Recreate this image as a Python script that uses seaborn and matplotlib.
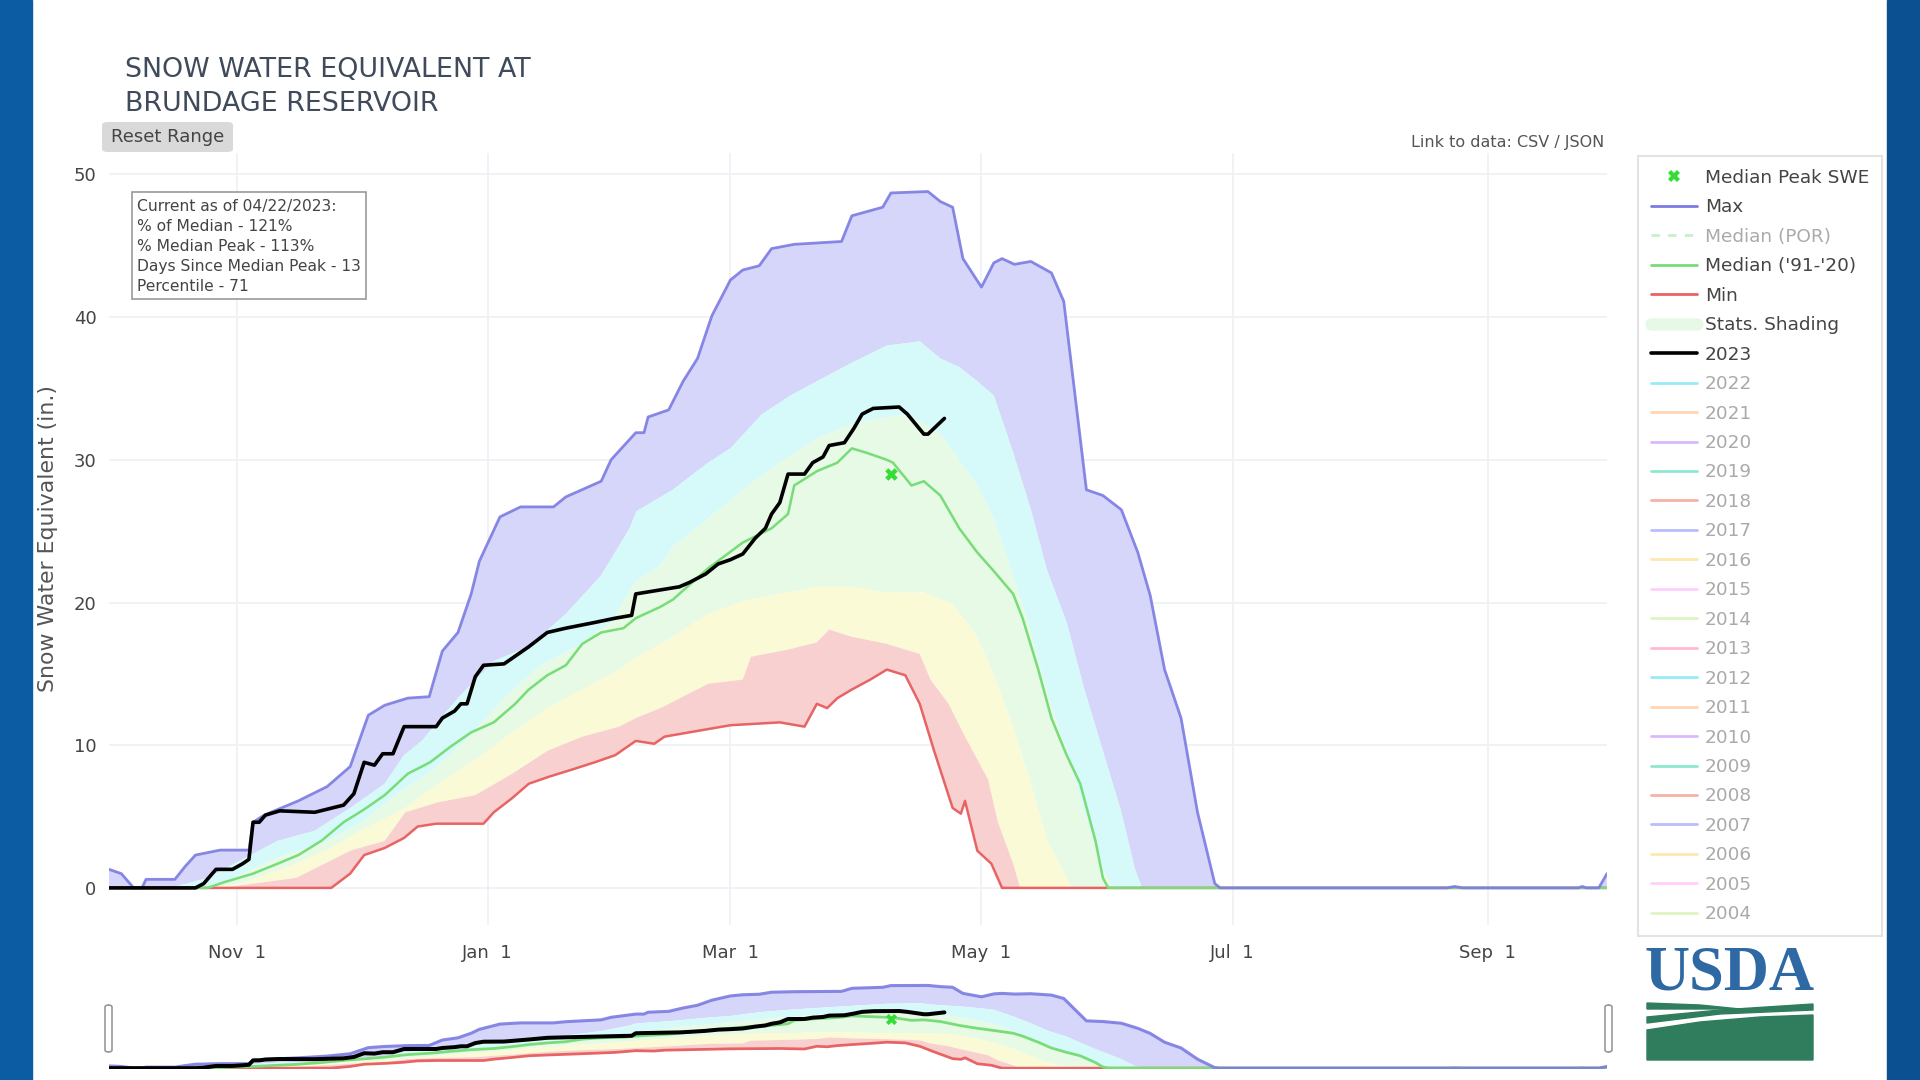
import numpy as np
import matplotlib
matplotlib.use("Agg")
import matplotlib.pyplot as plt
import seaborn as sns
from matplotlib.lines import Line2D
from matplotlib.patches import Rectangle, FancyBboxPatch, Polygon

# day of water year (0 = Oct 1) and SWE in inches
max_days = [0, 3, 6, 8, 9, 16, 18.5, 21, 27, 34, 35, 37.7, 46, 53, 58.6, 63, 67, 72.6, 77.8, 81, 84.8, 88, 90,
            95, 100, 108, 111, 119.6, 122, 128, 130, 131, 136, 139.5, 143, 146.5, 151, 154, 158, 161, 166.5,
            178, 180.5, 188, 190, 199, 202, 205, 207.5, 212, 215, 217, 220, 224, 229, 232, 237.5, 241.5, 246,
            250, 253, 256.5, 260.5, 264.5, 268.7, 270, 325, 327, 329, 357, 358, 359, 362, 364]
max_swe = [1.3, 1.0, 0, 0, 0.6, 0.6, 1.5, 2.3, 2.65, 2.65, 4.6, 5.1, 6.1, 7.1, 8.5, 12.1, 12.8, 13.3, 13.4, 16.6,
           17.9, 20.6, 22.9, 26.0, 26.7, 26.7, 27.4, 28.5, 30.0, 31.9, 31.9, 33.0, 33.5, 35.5, 37.1, 40.1, 42.6,
           43.3, 43.6, 44.8, 45.1, 45.3, 47.1, 47.7, 48.7, 48.8, 48.1, 47.7, 44.1, 42.1, 43.8, 44.1, 43.7, 43.9,
           43.1, 41.1, 27.9, 27.5, 26.5, 23.5, 20.5, 15.3, 11.9, 5.3, 0.3, 0, 0, 0.1, 0, 0, 0.1, 0, 0, 1.0]

p90_days = [0, 15, 24, 32.5, 41, 50, 58.6, 67, 71.7, 76, 84.8, 93.5, 102, 111, 119.6, 126.5, 128.2, 137, 145.6,
            151, 158.7, 165.6, 172, 180.5, 189, 197, 202, 206.6, 211, 215, 219.7, 224, 228, 232.7, 237, 241.5,
            246, 249.3, 251, 364]
p90_swe = [0, 0, 0.7, 2.0, 3.3, 4.0, 5.6, 7.3, 9.3, 10.3, 13.3, 15.9, 16.9, 19.2, 21.9, 25.2, 26.4, 27.9, 29.8,
           30.8, 33.2, 34.5, 35.5, 36.8, 38.0, 38.3, 37.1, 36.5, 35.5, 34.5, 30.5, 26.5, 22.2, 18.6, 13.9, 9.6,
           5.3, 1.3, 0, 0]

p70_days = [0, 24, 27, 40, 53, 61.5, 70, 79, 87.5, 96, 104.8, 113.5, 122, 128, 134, 137, 145.6, 154, 163, 172,
            180.5, 189, 194, 202, 211, 215, 219.7, 224, 228, 232.7, 237, 241.5, 244, 364]
p70_swe = [0, 0, 0.3, 2.0, 3.3, 4.6, 6.6, 8.3, 10.6, 13.3, 15.6, 16.9, 18.6, 21.5, 22.6, 23.9, 25.9, 27.9, 29.8,
           31.5, 32.5, 33.0, 33.2, 31.8, 28.2, 25.9, 21.9, 17.9, 13.6, 9.6, 5.3, 1.3, 0, 0]

p30_days = [0, 24, 32, 45.5, 54, 63, 72, 80, 89, 98, 106.5, 115, 124, 128.5, 137, 145.6, 154, 163, 172, 180.5,
            189, 198, 205, 211, 215, 219.7, 224, 228, 232.7, 234, 364]
p30_swe = [0, 0, 0.3, 1.7, 2.8, 4.3, 5.6, 7.3, 9.0, 10.9, 12.6, 13.9, 15.3, 16.2, 17.6, 19.2, 20.1, 20.6, 21.1,
           21.1, 20.7, 20.7, 19.9, 17.6, 14.9, 11.3, 7.3, 3.3, 0.7, 0, 0]

p10_days = [0, 28, 32.5, 45.5, 58.6, 67, 72, 80, 89, 98, 106.5, 115, 124, 128, 134, 145.6, 154, 156, 165, 172,
            175, 180.5, 189, 197, 199.6, 204, 208, 213.6, 216, 219.7, 221.4, 364]
p10_swe = [0, 0, 0.2, 0.7, 2.6, 3.3, 5.3, 6.0, 6.5, 8.0, 9.6, 10.6, 11.3, 11.9, 12.6, 14.3, 14.6, 16.2, 16.7,
           17.2, 18.1, 17.6, 17.1, 16.4, 14.6, 12.9, 10.6, 7.6, 4.6, 1.7, 0, 0]

min_days = [0, 54, 58.6, 62, 67, 71.7, 75, 79.5, 91, 93.5, 98, 102, 107, 112.6, 118, 123, 128, 132.5, 135, 141,
            151, 163, 169, 172, 174.5, 177, 180.5, 185, 189, 193.5, 197, 200.5, 205, 207, 208, 211, 214.4, 217, 364]
min_swe = [0, 0, 1.0, 2.3, 2.8, 3.5, 4.3, 4.5, 4.5, 5.3, 6.3, 7.3, 7.8, 8.3, 8.8, 9.3, 10.3, 10.1, 10.6, 10.9,
           11.4, 11.6, 11.3, 12.9, 12.6, 13.3, 13.9, 14.6, 15.3, 14.9, 12.9, 9.6, 5.6, 5.2, 6.1, 2.6, 1.7, 0, 0]

med_days = [0, 24, 28, 35, 41, 46, 51.6, 57, 62, 67, 72.6, 78, 83, 88, 93.5, 98.7, 102, 106.5, 111, 115, 119.6,
            125, 128, 134, 137, 145.6, 154, 161, 165, 166.5, 172, 177, 180.5, 184, 189, 190.5, 195, 198, 202,
            206.6, 211, 215, 219.7, 222, 225.8, 229, 232.7, 236, 239.7, 241.5, 242.8, 364]
med_swe = [0, 0, 0.4, 1.0, 1.7, 2.3, 3.3, 4.6, 5.5, 6.5, 8.0, 8.8, 9.9, 10.9, 11.6, 12.9, 13.9, 14.9, 15.6, 17.1,
           17.9, 18.2, 18.9, 19.7, 20.2, 22.4, 24.2, 25.2, 26.2, 28.2, 29.2, 29.8, 30.8, 30.5, 30.0, 29.8, 28.2,
           28.5, 27.5, 25.2, 23.5, 22.2, 20.6, 18.9, 15.3, 11.9, 9.3, 7.3, 3.3, 0.7, 0, 0]

wy2023_days = [0, 21, 23, 26, 30, 32.5, 34, 35, 36.5, 38, 41.5, 50, 57, 59.5, 62, 64.5, 66.5, 69, 71.7, 79.5, 81,
               84, 85.5, 87, 89, 91, 96, 102, 106.5, 111, 118, 123, 127, 128, 138.6, 141, 145, 148, 151, 154, 157,
               159.5, 161, 163, 165, 169, 171, 173.5, 175, 178.7, 181, 183, 185.7, 192, 194, 198, 199, 203]
wy2023_swe = [0, 0, 0.3, 1.3, 1.3, 1.7, 2.0, 4.6, 4.6, 5.1, 5.4, 5.3, 5.8, 6.6, 8.8, 8.6, 9.4, 9.4, 11.3, 11.3,
              11.9, 12.4, 12.9, 12.9, 14.8, 15.6, 15.7, 16.9, 17.9, 18.2, 18.6, 18.9, 19.1, 20.6, 21.1, 21.4, 22.0,
              22.7, 23.0, 23.4, 24.5, 25.2, 26.2, 27.0, 29.0, 29.0, 29.8, 30.2, 31.0, 31.2, 32.2, 33.2, 33.6, 33.7,
              33.2, 31.8, 31.8, 32.9]

peak_day = [190]
peak_swe = [29.0]

tick_days = [31, 92, 151, 212, 273, 335]
tick_labels = ["Nov  1", "Jan  1", "Mar  1", "May  1", "Jul  1", "Sep  1"]
y_ticks = [0, 10, 20, 30, 40, 50]

info_lines = ["Current as of 04/22/2023:", "% of Median - 121%", "% Median Peak - 113%",
              "Days Since Median Peak - 13", "Percentile - 71"]

year_labels = ["2022", "2021", "2020", "2019", "2018", "2017", "2016", "2015", "2014", "2013",
               "2012", "2011", "2010", "2009", "2008", "2007", "2006", "2005", "2004"]
year_colors = ["#19d3f3", "#FFA15A", "#ab63fa", "#00cc96", "#EF553B", "#636efa", "#FECB52", "#FF97FF",
               "#B6E880", "#FF6692", "#19d3f3", "#FFA15A", "#ab63fa", "#00cc96", "#EF553B", "#636efa",
               "#FECB52", "#FF97FF", "#B6E880"]

C_MAX, C_MIN, C_MED, C_PEAK = "#7b7be3", "#e86464", "#78dc78", "#33dd33"
bands = [
    (max_days, max_swe, p90_days, p90_swe, "#d6d6fa"),
    (p90_days, p90_swe, p70_days, p70_swe, "#d6fafa"),
    (p70_days, p70_swe, p30_days, p30_swe, "#e6fae6"),
    (p30_days, p30_swe, p10_days, p10_swe, "#fafad6"),
    (p10_days, p10_swe, min_days, min_swe, "#f9d0d0"),
]

sns.set_theme(style="white")
plt.rcParams["font.family"] = ["DejaVu Sans"]

W, H = 1920, 1080
fig = plt.figure(figsize=(19.2, 10.8), dpi=100)
fig.patch.set_facecolor("white")


def fx(x):
    return x / W


def fy(y):
    return 1 - y / H


def draw_chart(ax, lw_scale=1.0, marker_size=9):
    for d1, v1, d2, v2, col in bands:
        xs = np.concatenate([d1, d2[::-1]])
        ys = np.concatenate([v1, v2[::-1]])
        ax.fill(xs, ys, color=col, lw=0, zorder=1)
    sns.lineplot(x=min_days, y=min_swe, ax=ax, color=C_MIN, linewidth=1.8 * lw_scale, estimator=None, sort=False, zorder=3)
    sns.lineplot(x=med_days, y=med_swe, ax=ax, color=C_MED, linewidth=1.8 * lw_scale, estimator=None, sort=False, zorder=3)
    sns.lineplot(x=max_days, y=max_swe, ax=ax, color=C_MAX, linewidth=2.0 * lw_scale, estimator=None, sort=False,
                 zorder=4, alpha=0.9)
    sns.lineplot(x=wy2023_days, y=wy2023_swe, ax=ax, color="black", linewidth=2.6 * lw_scale, estimator=None, sort=False, zorder=5)
    sns.scatterplot(x=peak_day, y=peak_swe, ax=ax, color=C_PEAK, marker="X", s=marker_size ** 2, linewidth=0, zorder=6)


# main plot
ax = fig.add_axes([fx(109), fy(925), fx(1607) - fx(109), fy(153) - fy(925)])
draw_chart(ax)
ax.set_xlim(0, 364)
ax.set_ylim(-2.6, 51.5)
ax.set_xticks(tick_days)
ax.set_xticklabels(tick_labels)
ax.set_yticks(y_ticks)
ax.tick_params(axis="x", length=0, pad=14, labelsize=13, labelcolor="#444444")
ax.tick_params(axis="y", length=0, pad=9, labelsize=13, labelcolor="#444444")
ax.grid(True, color="#eef1f5", linewidth=1.2)
ax.set_axisbelow(True)
for s in ax.spines.values():
    s.set_visible(False)
ax.set_xlabel("")
ax.set_ylabel("")
fig.text(fx(48), fy(539), "Snow Water Equivalent (in.)", rotation=90, fontsize=15.8, color="#555555",
         ha="center", va="center")

# range slider
ax2 = fig.add_axes([fx(109), fy(1069), fx(1607) - fx(109), fy(980) - fy(1069)])
draw_chart(ax2, lw_scale=1.1, marker_size=8)
ax2.set_xlim(0, 364)
ax2.set_ylim(-0.5, 52)
ax2.set_xticks([])
ax2.set_yticks([])
ax2.set_xlabel("")
ax2.set_ylabel("")
for s in ax2.spines.values():
    s.set_visible(False)
for hx in (105, 1605):
    fig.patches.append(FancyBboxPatch((fx(hx), fy(1052)), fx(7), fy(1005) - fy(1052), transform=fig.transFigure,
                                      boxstyle="round,pad=0,rounding_size=0.002", facecolor="white",
                                      edgecolor="#999999", linewidth=1.2, zorder=10))

# title and controls
fig.text(fx(125), fy(70), "SNOW WATER EQUIVALENT AT", fontsize=19.4, color="#3f4a5a", va="center", ha="left")
fig.text(fx(125), fy(104), "BRUNDAGE RESERVOIR", fontsize=19.4, color="#3f4a5a", va="center", ha="left")
fig.patches.append(FancyBboxPatch((fx(102), fy(152)), fx(233) - fx(102), fy(122) - fy(152),
                                  transform=fig.transFigure, boxstyle="round,pad=0,rounding_size=0.003",
                                  facecolor="#d9d9d9", edgecolor="none", zorder=5))
fig.text(fx(167.5), fy(137), "Reset Range", fontsize=13, color="#444444", ha="center", va="center", zorder=6)
fig.text(fx(1604), fy(142), "Link to data: CSV / JSON", fontsize=11.5, color="#555555", ha="right", va="center")

# info box
fig.patches.append(Rectangle((fx(132), fy(299)), fx(366) - fx(132), fy(192) - fy(299), transform=fig.transFigure,
                             facecolor="white", edgecolor="#999999", linewidth=1.2, zorder=7))
for i, line in enumerate(info_lines):
    fig.text(fx(137), fy(207 + i * 19.9), line, fontsize=11.2, color="#444444", ha="left", va="center", zorder=8)

# legend
handles = [
    Line2D([], [], linestyle="none", marker="X", markersize=9, markeredgewidth=0, color=C_PEAK),
    Line2D([], [], color=C_MAX, lw=2),
    Line2D([], [], color="#c8efc8", lw=2, linestyle=(0, (3, 3))),
    Line2D([], [], color=C_MED, lw=2),
    Line2D([], [], color=C_MIN, lw=2),
    Line2D([], [], color="#e6f8e6", lw=9),
    Line2D([], [], color="black", lw=2.6),
] + [Line2D([], [], color=c, lw=2, alpha=0.45) for c in year_colors]
labels = ["Median Peak SWE", "Max", "Median (POR)", "Median ('91-'20)", "Min", "Stats. Shading", "2023"] + year_labels
leg = fig.legend(handles, labels, loc="upper left", bbox_to_anchor=(fx(1638), fy(156)),
                 bbox_transform=fig.transFigure, fontsize=13.3, labelspacing=0.62, handlelength=2.5,
                 handletextpad=0.42, borderpad=0.7, borderaxespad=0, frameon=True, fancybox=False)
leg.get_frame().set_edgecolor("#dcdcdc")
leg.get_frame().set_linewidth(1.5)
active = {"Median Peak SWE", "Max", "Median ('91-'20)", "Min", "Stats. Shading", "2023"}
for t in leg.get_texts():
    t.set_color("#444444" if t.get_text() in active else "#aaaaaa")

# side bars
fig.patches.append(Rectangle((0, 0), fx(32), 1, transform=fig.transFigure, color="#0c5ca3", zorder=0))
fig.patches.append(Rectangle((fx(1887), 0), fx(33), 1, transform=fig.transFigure, color="#0b5090", zorder=0))

# USDA logo
fig.text(fx(1730), fy(974), "USDA", fontsize=45, family=["Liberation Serif", "DejaVu Serif"], weight="bold",
         color="#2f69a3", ha="center", va="center")
green = "#2f7d5c"
fig.patches.append(Polygon([(fx(1647), fy(1030)), (fx(1700), fy(1022)), (fx(1760), fy(1017)), (fx(1813), fy(1015)),
                            (fx(1813), fy(1060)), (fx(1647), fy(1060))], closed=True, transform=fig.transFigure,
                           color=green, zorder=3))
fig.patches.append(Polygon([(fx(1647), fy(1017)), (fx(1720), fy(1010)), (fx(1813), fy(1004)), (fx(1813), fy(1010)),
                            (fx(1720), fy(1014)), (fx(1647), fy(1023))], closed=True, transform=fig.transFigure,
                           color=green, zorder=3))
fig.patches.append(Polygon([(fx(1647), fy(1003)), (fx(1700), fy(1005)), (fx(1740), fy(1009)), (fx(1700), fy(1009)),
                            (fx(1647), fy(1009))], closed=True, transform=fig.transFigure, color=green, zorder=3))

fig.savefig("out.png", dpi=100)
